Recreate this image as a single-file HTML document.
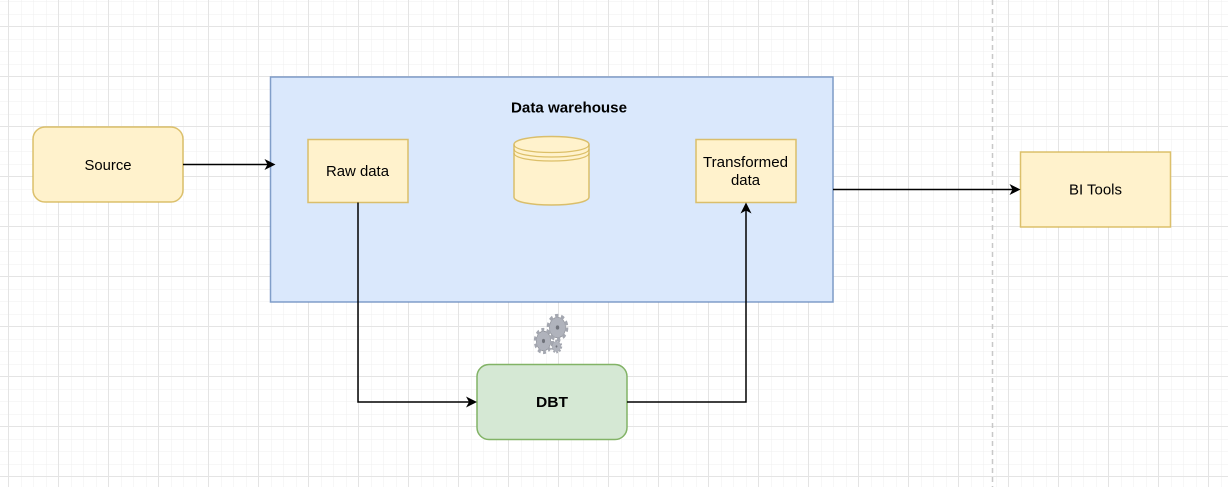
<!DOCTYPE html>
<html>
<head>
<meta charset="utf-8">
<style>
html,body{margin:0;padding:0;background:#fff;}
svg{display:block;}
text{font-family:"Liberation Sans",Arial,sans-serif;font-size:15px;fill:#000;text-anchor:middle;}
.b{font-weight:bold;}
.y{fill:#fff2cc;stroke:#d6b656;stroke-width:1.5;stroke-opacity:.85;}
.c{fill:none;stroke:#000;stroke-width:1.5;}
</style>
</head>
<body>
<svg width="1228" height="487" viewBox="0 0 1228 487" xmlns="http://www.w3.org/2000/svg">
<defs>
<pattern id="minor" x="8.5" y="1.5" width="12.5" height="12.5" patternUnits="userSpaceOnUse">
<path d="M0 0V12.5M0 0H12.5" fill="none" stroke="#efefef" stroke-width="1"/>
</pattern>
<pattern id="major" x="8" y="26" width="50" height="50" patternUnits="userSpaceOnUse">
<path d="M0.500 0V50M0 0.500H50" fill="none" stroke="#e4e4e4" stroke-width="1"/>
</pattern>
<g id="gear">
<circle r="8.500" fill="#b0b3bc" stroke="#85888f" stroke-width=".6"/>
<circle r="9.800" fill="none" stroke="#a4a7b0" stroke-width="3.200" stroke-dasharray="3.400 2.800"/>
<circle r="1.800" fill="#70737b"/>
</g>
</defs>
<rect width="1228" height="487" fill="#fff"/>
<rect width="1228" height="487" fill="url(#minor)"/>
<rect width="1228" height="487" fill="url(#major)"/>
<line x1="992.500" y1="0" x2="992.500" y2="487" stroke="#c8c8c8" stroke-width="1.500" stroke-dasharray="5 4"/>

<rect x="270.500" y="77" width="562.500" height="225" fill="#dae8fc" stroke="#6c8ebf" stroke-width="1.500" stroke-opacity=".85"/>
<text class="b" x="569" y="112.500" textLength="116" lengthAdjust="spacingAndGlyphs">Data warehouse</text>

<rect class="y" x="33" y="127" width="150" height="75" rx="12" ry="12"/>
<text x="108" y="170" textLength="47" lengthAdjust="spacingAndGlyphs">Source</text>

<rect class="y" x="308" y="139.500" width="100" height="63"/>
<text x="357.500" y="176" textLength="63" lengthAdjust="spacingAndGlyphs">Raw data</text>

<rect class="y" x="696" y="139.500" width="100" height="63"/>
<text x="745.500" y="167" textLength="85" lengthAdjust="spacingAndGlyphs">Transformed</text>
<text x="745.500" y="185" textLength="29" lengthAdjust="spacingAndGlyphs">data</text>

<path class="y" d="M514 144.500C514 139.500 531 136.500 551.500 136.500C572 136.500 589 139.500 589 144.500V197C589 202 572 205 551.500 205C531 205 514 202 514 197Z"/>
<path d="M514 144.500C514 149.500 531 152.500 551.500 152.500C572 152.500 589 149.500 589 144.500M514 149C514 154 531 157 551.500 157C572 157 589 154 589 149M514 153C514 158 531 161 551.500 161C572 161 589 158 589 153" fill="none" stroke="#d6b656" stroke-width="1.200" stroke-opacity=".85"/>

<rect class="y" x="1020.500" y="152" width="150" height="75"/>
<text x="1095.500" y="194.500" textLength="53" lengthAdjust="spacingAndGlyphs">BI Tools</text>

<rect x="477" y="364.500" width="150" height="75" rx="12" ry="12" fill="#d5e8d4" stroke="#82b366" stroke-width="1.500"/>
<text class="b" x="552" y="407" textLength="32" lengthAdjust="spacingAndGlyphs">DBT</text>

<use href="#gear" transform="translate(557.500,327.500) scale(.95,1.2)"/>
<use href="#gear" transform="translate(543.500,341) scale(.85,1.15)"/>
<use href="#gear" transform="translate(556.500,346.500) scale(.5,.6)"/>

<path class="c" d="M183 164.500H270"/>
<path d="M275.500 164.500L264.500 159L267.500 164.500L264.500 170Z"/>
<path class="c" d="M833 189.500H1015"/>
<path d="M1020.500 189.500L1009.500 184L1012.500 189.500L1009.500 195Z"/>
<path class="c" d="M358 202.500V402H472"/>
<path d="M477 402L466 396.500L469 402L466 407.500Z"/>
<path class="c" d="M627 402H746V208"/>
<path d="M746 202.500L740.500 213.500L746 210.500L751.500 213.500Z"/>
</svg>
</body>
</html>
